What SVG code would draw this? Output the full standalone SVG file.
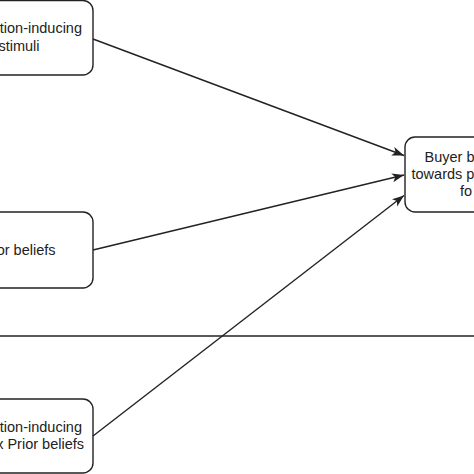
<svg xmlns="http://www.w3.org/2000/svg" width="474" height="474" viewBox="0 0 474 474">
<defs>
<style>
.node{fill:#fff;stroke:#222;stroke-width:1.4}
.edge{fill:none;stroke:#222;stroke-width:1.4}
.t{font-family:"Liberation Sans",Arial,sans-serif;font-size:14.5px;fill:#222}
</style>
<marker id="arr" markerUnits="userSpaceOnUse" markerWidth="14" markerHeight="10" refX="12" refY="5" orient="auto">
<path d="M0,0.5 L12,5 L0,9.5 L3,5 z" fill="#222"/>
</marker>
</defs>
<rect width="474" height="474" fill="#fff"/>
<g id="n1">
<rect class="node" x="-30" y="0.5" width="123" height="74.5" rx="10"/>
<text class="t" x="82" y="33" text-anchor="end">tion-inducing</text>
<text class="t" x="39.5" y="51" text-anchor="end">stimuli</text>
</g>
<g id="n2">
<rect class="node" x="-30" y="212" width="123" height="76" rx="10"/>
<text class="t" x="55.5" y="254.5" text-anchor="end">or beliefs</text>
</g>
<g id="n3">
<rect class="node" x="-30" y="399" width="123" height="74" rx="10"/>
<text class="t" x="82" y="431.5" text-anchor="end">tion-inducing</text>
<text class="t" x="84" y="449" text-anchor="end">x Prior beliefs</text>
</g>
<g id="n4">
<rect class="node" x="405" y="137" width="110" height="75" rx="10"/>
<text class="t" x="424.5" y="162">Buyer b</text>
<text class="t" x="411.5" y="179">towards p</text>
<text class="t" x="460" y="196">fo</text>
</g>
<g id="connectors">
<line class="edge" x1="93" y1="39" x2="404" y2="155.5" marker-end="url(#arr)"/>
<line class="edge" x1="93" y1="250" x2="404" y2="175" marker-end="url(#arr)"/>
<line class="edge" x1="93" y1="436" x2="404" y2="195.5" marker-end="url(#arr)"/>
<line class="edge" x1="0" y1="336" x2="474" y2="336"/>
</g>
</svg>
